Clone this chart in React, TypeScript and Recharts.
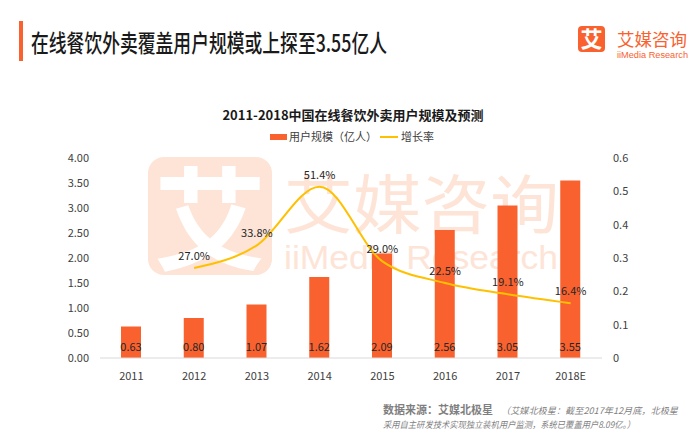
import React from 'react'
import { ComposedChart, Bar, Line, XAxis, YAxis, LabelList } from 'recharts'

const years = ['2011', '2012', '2013', '2014', '2015', '2016', '2017', '2018E']
const users = [0.63, 0.8, 1.07, 1.62, 2.09, 2.56, 3.05, 3.55]
const growth = [null, 0.27, 0.338, 0.514, 0.29, 0.225, 0.191, 0.164]
const leftTicks = [0, 0.5, 1, 1.5, 2, 2.5, 3, 3.5, 4]
const rightTicks = [0, 0.1, 0.2, 0.3, 0.4, 0.5, 0.6]

const data = years.map((year, i) => ({ year, users: users[i], growth: growth[i] }))

const FONT = '"Noto Sans CJK SC", "Noto Sans", sans-serif'
const ORANGE = '#F9622F'
const GOLD = '#FFC000'
const WATERMARK = '#FDE4D6'

const BarValue = (props: any) => {
  const { x, y, width, height, value } = props
  return (
    <text x={x + width / 2} y={y + height - 7} textAnchor="middle" fontSize={11} fill="#262626" fontFamily={FONT}>
      {Number(value).toFixed(2)}
    </text>
  )
}

const GrowthValue = (props: any) => {
  const { x, y, value } = props
  if (value == null) return null
  return (
    <text x={x} y={y - 8} textAnchor="middle" fontSize={11} fill="#262626" fontFamily={FONT}>
      {(value * 100).toFixed(1) + '%'}
    </text>
  )
}

export default function App() {
  return (
    <div style={{ position: 'absolute', left: 0, top: 0, width: 700, height: 434, background: '#fff', fontFamily: FONT }}>
      {/* faded brand mark behind the plot */}
      <svg width={700} height={434} style={{ position: 'absolute', left: 0, top: 0 }}>
        <rect x={148} y={157} width={124} height={118} rx={16} fill={WATERMARK} />
        <text x={210} y={262} textAnchor="middle" fontSize={112} fontWeight={700} fill="#fff" fontFamily={FONT}>艾</text>
        <text x={284} y={228} fontSize={64} fill={WATERMARK} fontFamily={FONT} textLength={275} lengthAdjust="spacingAndGlyphs">艾媒咨询</text>
        <text x={284} y={269} fontSize={33} fill={WATERMARK} fontFamily='"Liberation Sans", sans-serif' textLength={274} lengthAdjust="spacingAndGlyphs">iiMedia Research</text>
      </svg>

      <div style={{ position: 'absolute', left: 0, top: 0 }}>
        <ComposedChart width={700} height={434} data={data} margin={{ top: 158, right: 58, bottom: 46, left: 40 }}>
          <XAxis
            dataKey="year"
            height={30}
            axisLine={{ stroke: '#D9D9D9' }}
            tickLine={false}
            tickMargin={8}
            tick={{ fontSize: 11, fill: '#404040', fontFamily: FONT }}
          />
          <YAxis
            yAxisId="left"
            width={60}
            domain={[0, 4]}
            ticks={leftTicks}
            interval={0}
            axisLine={false}
            tickLine={false}
            tickMargin={5}
            tickFormatter={(v: number) => v.toFixed(2)}
            tick={{ fontSize: 11, fill: '#404040', fontFamily: FONT }}
          />
          <YAxis
            yAxisId="right"
            orientation="right"
            width={40}
            domain={[0, 0.6]}
            ticks={rightTicks}
            interval={0}
            axisLine={false}
            tickLine={false}
            tickMargin={5}
            tickFormatter={(v: number) => String(Math.round(v * 10) / 10)}
            tick={{ fontSize: 11, fill: '#404040', fontFamily: FONT }}
          />
          <Bar yAxisId="left" dataKey="users" name="用户规模（亿人）" fill={ORANGE} barSize={20} isAnimationActive={false}>
            <LabelList dataKey="users" content={BarValue} />
          </Bar>
          <Line
            yAxisId="right"
            type="monotone"
            dataKey="growth"
            name="增长率"
            stroke={GOLD}
            strokeWidth={2}
            dot={false}
            activeDot={false}
            isAnimationActive={false}
          >
            <LabelList dataKey="growth" content={GrowthValue} />
          </Line>
        </ComposedChart>
      </div>

      {/* header, chart title, legend and source note */}
      <svg width={700} height={434} style={{ position: 'absolute', left: 0, top: 0, pointerEvents: 'none' }}>
        <rect x={19} y={21} width={4} height={40} fill={ORANGE} />
        <text x={31} y={52} fontSize={24} fontWeight={500} fill="#1a1a1a" fontFamily={FONT} textLength={356} lengthAdjust="spacingAndGlyphs">
          在线餐饮外卖覆盖用户规模或上探至3.55亿人
        </text>

        <rect x={578} y={26} width={27} height={26} rx={4} fill={ORANGE} />
        <text x={591.5} y={47} textAnchor="middle" fontSize={22} fontWeight={700} fill="#fff" fontFamily={FONT}>艾</text>
        <text x={617} y={46} fontSize={17} fill={ORANGE} fontFamily={FONT} textLength={70} lengthAdjust="spacingAndGlyphs">艾媒咨询</text>
        <text x={617} y={58} fontSize={8.5} fill={ORANGE} fontFamily='"Liberation Sans", sans-serif' textLength={71} lengthAdjust="spacingAndGlyphs">iiMedia Research</text>

        <text x={353} y={120} textAnchor="middle" fontSize={13} fontWeight={700} fill="#1a1a1a" fontFamily={FONT}>
          2011-2018中国在线餐饮外卖用户规模及预测
        </text>

        <rect x={270} y={134} width={17} height={6} fill={ORANGE} />
        <text x={289} y={141} fontSize={11} fill="#404040" fontFamily={FONT}>用户规模（亿人）</text>
        <line x1={380} y1={137} x2={398} y2={137} stroke={GOLD} strokeWidth={2} />
        <text x={401} y={141} fontSize={11} fill="#404040" fontFamily={FONT}>增长率</text>

        <text x={383} y={414} fontSize={11} fontWeight={700} fill="#7F7F7F" fontFamily={FONT}>数据来源：艾媒北极星</text>
        <text x={501} y={414} fontSize={9} fontStyle="italic" fill="#7F7F7F" fontFamily={FONT} textLength={177} lengthAdjust="spacingAndGlyphs">
          （艾媒北极星：截至2017年12月底，北极星
        </text>
        <text x={383} y={428} fontSize={9} fontStyle="italic" fill="#7F7F7F" fontFamily={FONT} textLength={252} lengthAdjust="spacingAndGlyphs">
          采用自主研发技术实现独立装机用户监测，系统已覆盖用户8.09亿。）
        </text>
      </svg>
    </div>
  )
}
